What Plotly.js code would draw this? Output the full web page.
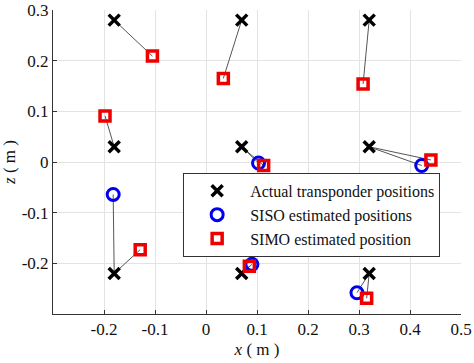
<!DOCTYPE html>
<html>
<head>
<meta charset="utf-8">
<script src="https://cdn.plot.ly/plotly-3.0.1.min.js"></script>
</head>
<body style="margin:0;background:#fff">
<svg width="1" height="1" style="position:absolute;top:0;left:0;visibility:hidden"><text x="0" y="1" style="font-family:'Liberation Serif';font-size:16px">.</text><text x="0" y="1" style="font-family:'Liberation Serif';font-style:italic;font-size:16px">.</text></svg>
<div id="chart" style="position:absolute;top:0;left:0;width:474px;height:363px"></div>
<script>
// Actual transponder positions (x, z) in metres
var actualX = [-0.18, 0.07, 0.32, -0.18, 0.07, 0.32, -0.18, 0.07, 0.32];
var actualZ = [0.28, 0.28, 0.28, 0.03, 0.03, 0.03, -0.22, -0.22, -0.22];
// SISO estimated positions (null = not visible)
var sisoX = [null, null, null, null, 0.103, 0.423, -0.182, 0.090, 0.296];
var sisoZ = [null, null, null, null, -0.002, -0.007, -0.064, -0.202, -0.258];
// SIMO estimated positions
var simoX = [-0.105, 0.034, 0.308, -0.198, 0.113, 0.441, -0.129, 0.085, 0.315];
var simoZ = [0.209, 0.165, 0.154, 0.091, -0.007, 0.004, -0.173, -0.206, -0.269];

var legendNames = ['Actual transponder positions', 'SISO estimated positions', 'SIMO estimated position'];
var xTicks = [-0.2, -0.1, 0, 0.1, 0.2, 0.3, 0.4, 0.5];
var zTicks = [-0.2, -0.1, 0, 0.1, 0.2, 0.3];

// connecting segments from actual to each estimate
var segX = [], segZ = [];
for (var i = 0; i < actualX.length; i++) {
  if (sisoX[i] !== null) { segX.push(actualX[i], sisoX[i], null); segZ.push(actualZ[i], sisoZ[i], null); }
  if (simoX[i] !== null) { segX.push(actualX[i], simoX[i], null); segZ.push(actualZ[i], simoZ[i], null); }
}

var fam = 'Liberation Serif';

var traces = [
  {x: segX, y: segZ, mode: 'lines', line: {color: '#555', width: 1}, showlegend: false, hoverinfo: 'skip'},
  {x: actualX, y: actualZ, mode: 'markers', name: legendNames[0],
   marker: {symbol: 'x-thin-open', size: 11, color: '#000', line: {color: '#000', width: 3.5}}},
  {x: sisoX, y: sisoZ, mode: 'markers', name: legendNames[1],
   marker: {symbol: 'circle-open', size: 12, color: '#0000ee', line: {color: '#0000ee', width: 3}}},
  {x: simoX, y: simoZ, mode: 'markers', name: legendNames[2],
   marker: {symbol: 'square-open', size: 10, color: '#ee0000', line: {color: '#ee0000', width: 3.5}}}
];

var layout = {
  width: 474, height: 363,
  margin: {l: 53, r: 13, t: 10, b: 49},
  paper_bgcolor: '#fff', plot_bgcolor: '#fff',
  font: {family: fam, size: 16, color: '#111'},
  showlegend: true,
  legend: {x: 0.319, y: 0.464, xanchor: 'left', yanchor: 'top', itemwidth: 56,
           bgcolor: '#fff', bordercolor: '#333', borderwidth: 1,
           font: {family: fam, size: 16, color: '#111'}, tracegroupgap: 0},
  xaxis: {range: [-0.3, 0.5], tickvals: xTicks, ticktext: xTicks.map(String),
          showgrid: true, gridcolor: '#e3e3e3', gridwidth: 1, zeroline: false,
          showline: true, linecolor: '#333', linewidth: 1, ticks: 'inside', ticklen: 4, tickcolor: '#333',
          tickfont: {family: fam, size: 17, color: '#111'},
          title: {text: '<i>x</i> ( m )', font: {family: fam, size: 17, color: '#111'}, standoff: 4}},
  yaxis: {range: [-0.3, 0.3], tickvals: zTicks, ticktext: zTicks.map(String),
          showgrid: true, gridcolor: '#e3e3e3', gridwidth: 1, zeroline: false,
          showline: true, linecolor: '#333', linewidth: 1, ticks: 'inside', ticklen: 4, tickcolor: '#333',
          tickfont: {family: fam, size: 17, color: '#111'},
          title: {text: '<i>z</i> ( m )', font: {family: fam, size: 17, color: '#111'}, standoff: 6}}
};

Plotly.newPlot('chart', traces, layout, {displayModeBar: false, staticPlot: true});
</script>
</body>
</html>
